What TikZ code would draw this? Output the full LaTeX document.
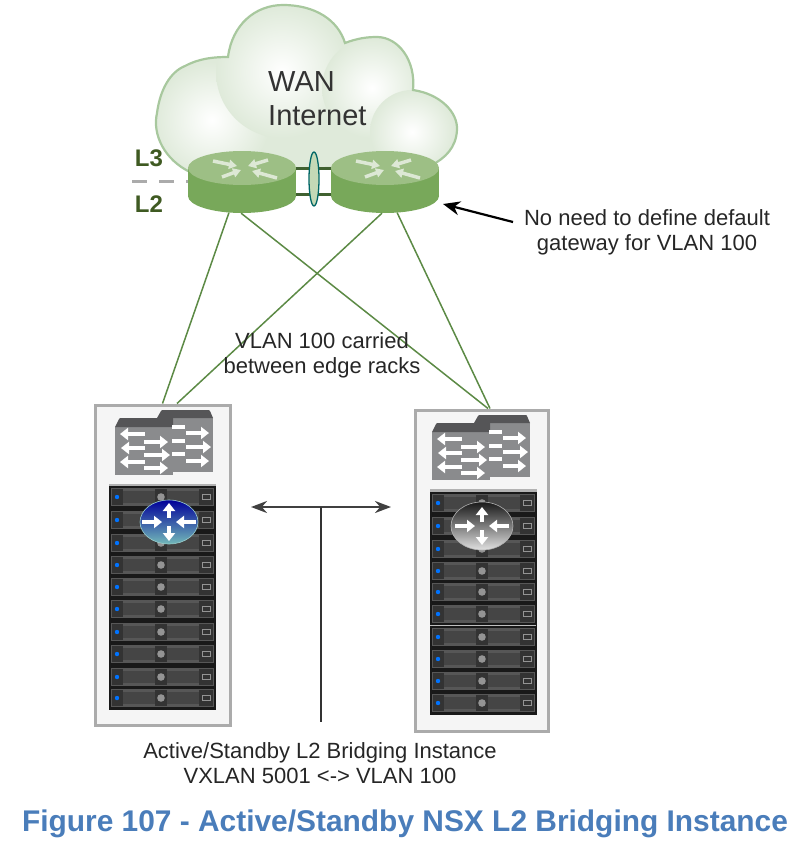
\documentclass[tikz,border=0pt]{standalone}
\usepackage{fontspec}
\setmainfont{Liberation Sans}
\usetikzlibrary{arrows.meta,shapes.geometric}
\definecolor{routerside}{HTML}{78A85A}
\definecolor{routertop}{HTML}{9DBF85}
\definecolor{routermarkc}{HTML}{DDE8D5}
\definecolor{linkgreen}{HTML}{5C8A45}
\definecolor{cloudedge}{HTML}{A8C89E}
\definecolor{cloudfill}{HTML}{DFEADA}
\definecolor{labelgreen}{HTML}{3F5A22}
\definecolor{captionblue}{HTML}{4A7DBA}
\definecolor{framegray}{HTML}{ABABAB}
\definecolor{foldergray}{HTML}{8A8B8D}
\definecolor{tabgray}{HTML}{555557}
\tikzset{
  label22/.style={font=\fontsize{22}{25}\selectfont,align=center,text=black!85,inner sep=0pt},
  frame/.style={draw=framegray,line width=3pt,fill=black!4,inner sep=0pt},
  routerbase/.style={ellipse,fill=routerside,minimum width=108pt,minimum height=34pt,inner sep=0pt},
  routerhead/.style={ellipse,fill=routertop,minimum width=108pt,minimum height=34pt,inner sep=0pt},
  link/.style={linkgreen,line width=1.5pt},
  tie/.style={draw=linkgreen!70!black,line width=3pt},
  lag/.style={ellipse,draw=teal!80!black,fill=routertop!60,line width=1.3pt,minimum width=10pt,minimum height=54pt,inner sep=0pt},
  whitearrow/.style={white,line width=4pt,-{Triangle[length=8pt,width=12pt]}},
  routerarrow/.style={routermarkc,line width=3.5pt,-{Triangle[length=8pt,width=9pt]}},
  bigarrow/.style={black!75,line width=2.5pt,{Stealth[length=16pt,width=12pt]}-{Stealth[length=16pt,width=12pt]}},
  bridgeicon/.style={ellipse,minimum width=58pt,minimum height=44pt,inner sep=0pt,draw=white!60!teal,line width=.6pt},
  pics/netswitch/.style={code={
    % rear folder
    \fill[foldergray] (42,8) rectangle (98,62);
    \fill[tabgray] (42,8) -- (46,1) -- (47,0) -- (94,0) -- (95,1) -- (98,8) -- cycle;
    % front folder
    \fill[foldergray] (0,17) rectangle (58,65);
    \fill[tabgray] (0,17) -- (4,9) -- (5,8) -- (58,8) -- (58,17) -- cycle;
    \draw[whitearrow] (30,24) -- (5,24);
    \draw[whitearrow] (30,38) -- (6,38);
    \draw[whitearrow] (30,52) -- (5,52);
    \draw[whitearrow] (29,32) -- (53,32);
    \draw[whitearrow] (29,45) -- (55,45);
    \draw[whitearrow] (29,58) -- (53,58);
    \draw[white,line width=4.5pt] (57,17) -- (70,17);
    \draw[white,line width=3.5pt] (57,31) -- (70,31);
    \draw[white,line width=3.5pt] (57,44) -- (70,44);
    \draw[whitearrow] (71,23) -- (94,23);
    \draw[whitearrow] (71,37) -- (96,37);
    \draw[whitearrow] (71,51) -- (94,51);
  }},
  pics/server/.style={code={
    \fill[black!90] (0,-11.5) rectangle (107,11.5);
    \fill[black!66] (2,-9) rectangle (105,9);
    \fill[black!73] (14,-6) rectangle (93,6);
    \fill[black!80] (3,-8) rectangle (14,8);
    \fill[blue!55!cyan] (8,0) circle (2.2);
    \fill[black!80] (46,-8) rectangle (58,8);
    \fill[black!42] (52,0) circle (3.8);
    \fill[black!80] (90,-8) rectangle (104,8);
    \draw[black!42,line width=.9pt] (93,-2.5) rectangle (101,2.5);
  }},
  pics/bridge/.style={code={
    \draw[whitearrow] (0,-4) -- (0,-19);
    \draw[whitearrow] (0,4) -- (0,19);
    \draw[whitearrow] (-27,0) -- (-7,0);
    \draw[whitearrow] (27,0) -- (7,0);
  }},
  pics/routermark/.style={code={
    \draw[routerarrow] (-29,-7) -- (-5,-2);
    \draw[routerarrow] (-20,9) -- (-1,2);
    \draw[routerarrow] (26,-8) -- (6,-2);
    \draw[routerarrow] (35,10) -- (10,3);
  }}
}
\begin{document}
\begin{tikzpicture}[x=1pt,y=-1pt]
\useasboundingbox (0,0) rectangle (807,851);

% cloud
\def\cloudpath{(190,172) .. controls (165,160) and (152,135) .. (157,113)
  .. controls (160,90) and (170,72) .. (185,66)
  .. controls (200,58) and (215,57) .. (228,57)
  .. controls (232,25) and (255,5) .. (283,5)
  .. controls (315,5) and (338,20) .. (345,43)
  .. controls (358,38) and (368,37) .. (377,37)
  .. controls (398,37) and (416,60) .. (413,90)
  .. controls (440,94) and (458,112) .. (457,130)
  .. controls (456,148) and (445,158) .. (432,165) -- cycle}
\fill[cloudfill] \cloudpath;
\begin{scope}
  \clip \cloudpath;
  \shade[inner color=white,outer color=cloudfill] (212,120) circle (58);
  \shade[inner color=white,outer color=cloudfill] (282,72) circle (66);
  \shade[inner color=white,outer color=cloudfill] (372,88) circle (50);
  \shade[inner color=white,outer color=cloudfill] (412,132) circle (42);
\end{scope}
\draw[cloudedge,line width=2.2pt] \cloudpath;
\node[anchor=north west,inner sep=0pt,align=left,font=\fontsize{29}{34}\selectfont,text=black!80] (wan) at (268,71) {WAN\\Internet};

% racks
\node[frame,minimum width=135pt,minimum height=320pt] (rackL) at (162.5,565) {};
\node[frame,minimum width=133pt,minimum height=321pt] (rackR) at (481.5,570.5) {};

% routers
\node[routerbase] (r1base) at (242,196) {};
\node[routerbase] (r2base) at (385,196) {};
\fill[routerside] (188,168) rectangle (296,196);
\fill[routerside] (331,168) rectangle (439,196);
\node[routerhead] (r1) at (242,168) {};
\node[routerhead] (r2) at (385,168) {};
\pic at (242,168) {routermark};
\pic at (385,168) {routermark};

\draw[tie] (r1.east |- 0,168) -- (r2.west |- 0,168);
\draw[tie] (r1.east |- 0,194) -- (r2.west |- 0,194);
\node[lag] (lag) at (314,179) {};

\draw[link] (r1base.-128) -- (rackL.north);
\draw[link] (r1base.-93) -- ([xshift=6.5pt]rackR.north);
\draw[link] (r2base.-100) -- ([xshift=14.5pt]rackL.north);
\draw[link] (r2base.-54) -- ([xshift=8.5pt]rackR.north);

% L3 / L2 boundary
\coordinate (dashend) at (132,181);
\draw[framegray,line width=3pt,dash pattern=on 15pt off 12pt] (dashend) -- (r1base.west |- dashend);
\node[font=\bfseries\fontsize{24}{28}\selectfont,text=labelgreen,inner sep=0pt] (l3) at (149,158) {L3};
\node[font=\bfseries\fontsize{24}{28}\selectfont,text=labelgreen,inner sep=0pt] (l2) at (149,204) {L2};

% left rack
\pic at (115,410) {netswitch};
\fill[black!30] (109,484) rectangle (216,488);
\foreach \y in {497,520,543,565,587,609,632,654,677,698}
  \pic at (109,\y) {server};
\node[bridgeicon,top color=blue!60!black,bottom color=teal!55!white] (bridgeA) at (169,522) {};
\pic at (169,522) {bridge};

% right rack
\pic at (432,415) {netswitch};
\fill[black!30] (430,489) rectangle (537,493);
\foreach \y in {503,526,549,571,592,614,637,659,681,703}
  \pic at (430,\y) {server};
\draw[white!75!black,line width=1pt] (430,625) -- (536,625);
\node[bridgeicon,draw=black!30,shading angle=-35,top color=black!90,bottom color=black!12,minimum width=62pt,minimum height=48pt] (bridgeB) at (482,526) {};
\pic at (482,526) {bridge};

% bridging instance
\coordinate (barL) at (251,507);
\coordinate (barR) at (391,507);
\coordinate (stemT) at (321,507);
\coordinate (stemB) at (321,722);
\draw[bigarrow] (barL) -- (barR);
\draw[black!80,line width=2.5pt] (stemT) -- (stemB);

% texts
\node[label22] (carried) at (322,355.5) {VLAN 100 carried\\between edge racks};
\node[label22] (nogw) at (647,232) {No need to define default\\gateway for VLAN 100};
\node[label22] (bridging) at (320,763.5) {Active/Standby L2 Bridging Instance\\VXLAN 5001 <-> VLAN 100};
\node[font=\bfseries\fontsize{29.9}{34}\selectfont,text=captionblue,inner sep=0pt] (caption) at (405,824) {Figure 107 - Active/Standby NSX L2 Bridging Instance};

% note arrow
\coordinate (notetail) at (513,222);
\coordinate (notetip) at (443,204);
\draw[black,line width=2.2pt,-{Stealth[length=17pt,width=14pt]}] (notetail) -- (notetip);
\end{tikzpicture}
\end{document}
